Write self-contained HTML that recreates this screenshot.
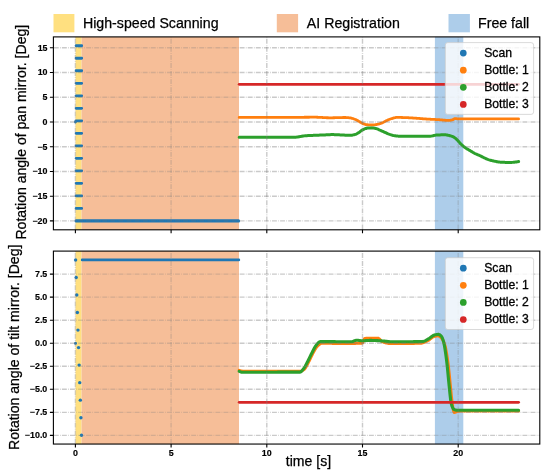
<!DOCTYPE html><html><head><meta charset="utf-8"><style>html,body{margin:0;padding:0;background:#fff;}svg{display:block;}.tl{font-family:"Liberation Sans", Arial, sans-serif;font-weight:bold;font-size:8.9px;fill:#000;stroke:#000;stroke-width:0.15px;}.lg{font-family:"Liberation Sans", Arial, sans-serif;font-size:12.2px;fill:#000;stroke:#000;stroke-width:0.3px;}.big{font-family:"Liberation Sans", Arial, sans-serif;font-size:14.05px;fill:#000;stroke:#000;stroke-width:0.25px;}.fl{font-family:"Liberation Sans", Arial, sans-serif;font-size:14.2px;fill:#000;stroke:#000;stroke-width:0.25px;}</style></head><body>
<svg width="550" height="474" viewBox="0 0 550 474">
<rect width="550" height="474" fill="#fff"/>
<rect x="53.5" y="14" width="20.9" height="18.3" fill="#ffe080"/>
<text x="82.9" y="27.5" class="fl">High-speed Scanning</text>
<rect x="276.8" y="14" width="21.3" height="18.3" fill="#f6be98"/>
<text x="306.8" y="27.5" class="fl">AI Registration</text>
<rect x="448.5" y="14" width="21.4" height="18.3" fill="#adcdea"/>
<text x="478" y="27.5" class="fl">Free fall</text>
<rect x="75.5" y="36.9" width="6.1" height="192.9" fill="#ffe080"/>
<rect x="81.6" y="36.9" width="157.4" height="192.9" fill="#f6be98"/>
<rect x="434.9" y="36.9" width="28.4" height="192.9" fill="#adcdea"/>
<path d="M76.1 208.39 H81.7 M76.1 195.88 H81.7 M76.1 183.37 H81.7 M76.1 170.86 H81.7 M76.1 158.35 H81.7 M76.1 145.83 H81.7 M76.1 133.32 H81.7 M76.1 120.81 H81.7 M76.1 108.3 H81.7 M76.1 95.79 H81.7 M76.1 83.28 H81.7 M76.1 70.77 H81.7 M76.1 58.26 H81.7 M76.1 45.75 H81.7" stroke="#1f77b4" stroke-width="2.8" stroke-linecap="round" fill="none"/><path d="M76.1 220.9 H238.6" stroke="#1f77b4" stroke-width="3.1" stroke-linecap="round" fill="none"/><circle cx="75.4" cy="122" r="1.4" fill="#1f77b4"/>
<path d="M239.2 117.4 L239.9 117.4 L240.6 117.4 L241.3 117.4 L242 117.4 L242.7 117.4 L243.4 117.4 L244.1 117.4 L244.8 117.4 L245.5 117.4 L246.2 117.4 L246.9 117.4 L247.6 117.4 L248.3 117.4 L249 117.4 L249.7 117.4 L250.4 117.4 L251.1 117.4 L251.8 117.4 L252.5 117.39 L253.21 117.39 L253.91 117.39 L254.61 117.39 L255.31 117.39 L256.01 117.39 L256.71 117.39 L257.41 117.39 L258.11 117.39 L258.81 117.39 L259.51 117.39 L260.21 117.39 L260.91 117.39 L261.61 117.38 L262.31 117.38 L263.01 117.38 L263.71 117.38 L264.41 117.38 L265.11 117.38 L265.81 117.38 L266.51 117.38 L267.21 117.38 L267.91 117.38 L268.61 117.37 L269.31 117.37 L270.01 117.37 L270.71 117.37 L271.41 117.37 L272.11 117.37 L272.81 117.37 L273.51 117.37 L274.21 117.36 L274.91 117.36 L275.61 117.36 L276.31 117.36 L277.01 117.36 L277.71 117.36 L278.41 117.36 L279.11 117.35 L279.81 117.35 L280.51 117.35 L281.22 117.35 L281.92 117.35 L282.62 117.35 L283.32 117.34 L284.02 117.34 L284.72 117.34 L285.42 117.34 L286.12 117.34 L286.82 117.34 L287.52 117.33 L288.22 117.33 L288.92 117.33 L289.62 117.33 L290.32 117.33 L291.02 117.33 L291.72 117.32 L292.42 117.32 L293.12 117.32 L293.82 117.32 L294.52 117.32 L295.22 117.31 L295.92 117.31 L296.62 117.31 L297.32 117.31 L298.02 117.31 L298.72 117.3 L299.42 117.3 L300.12 117.3 L300.82 117.3 L301.52 117.29 L302.22 117.29 L302.92 117.28 L303.62 117.28 L304.32 117.27 L305.02 117.27 L305.72 117.26 L306.42 117.25 L307.12 117.25 L307.82 117.24 L308.52 117.24 L309.23 117.23 L309.93 117.22 L310.63 117.22 L311.33 117.21 L312.03 117.21 L312.73 117.21 L313.43 117.2 L314.13 117.2 L314.83 117.2 L315.53 117.2 L316.23 117.21 L316.93 117.23 L317.63 117.25 L318.33 117.28 L319.03 117.31 L319.73 117.34 L320.43 117.38 L321.13 117.42 L321.83 117.46 L322.53 117.5 L323.23 117.54 L323.93 117.58 L324.63 117.62 L325.33 117.66 L326.03 117.7 L326.73 117.73 L327.43 117.75 L328.13 117.77 L328.83 117.79 L329.53 117.8 L330.23 117.8 L330.93 117.8 L331.63 117.79 L332.33 117.78 L333.03 117.77 L333.73 117.75 L334.43 117.74 L335.13 117.72 L335.83 117.7 L336.53 117.68 L337.24 117.66 L337.94 117.64 L338.64 117.62 L339.34 117.6 L340.04 117.58 L340.74 117.56 L341.44 117.54 L342.14 117.53 L342.84 117.52 L343.54 117.51 L344.24 117.5 L344.94 117.5 L345.64 117.51 L346.34 117.54 L347.04 117.58 L347.74 117.64 L348.44 117.72 L349.14 117.8 L349.84 117.88 L350.54 117.98 L351.24 118.12 L351.94 118.29 L352.64 118.49 L353.34 118.71 L354.04 118.95 L354.74 119.2 L355.44 119.48 L356.14 119.8 L356.84 120.17 L357.54 120.57 L358.24 120.99 L358.94 121.4 L359.64 121.8 L360.34 122.19 L361.04 122.6 L361.74 123 L362.44 123.36 L363.14 123.65 L363.84 123.91 L364.54 124.14 L365.25 124.35 L365.95 124.53 L366.65 124.66 L367.35 124.73 L368.05 124.8 L368.75 124.86 L369.45 124.91 L370.15 124.95 L370.85 124.98 L371.55 125 L372.25 125 L372.95 124.97 L373.65 124.91 L374.35 124.83 L375.05 124.73 L375.75 124.61 L376.45 124.5 L377.15 124.37 L377.85 124.23 L378.55 124.05 L379.25 123.85 L379.95 123.63 L380.65 123.39 L381.35 123.14 L382.05 122.88 L382.75 122.59 L383.45 122.25 L384.15 121.88 L384.85 121.49 L385.55 121.11 L386.25 120.75 L386.95 120.42 L387.65 120.12 L388.35 119.82 L389.05 119.53 L389.75 119.26 L390.45 119 L391.15 118.76 L391.85 118.54 L392.55 118.34 L393.26 118.13 L393.96 117.92 L394.66 117.74 L395.36 117.58 L396.06 117.46 L396.76 117.4 L397.46 117.4 L398.16 117.41 L398.86 117.42 L399.56 117.43 L400.26 117.45 L400.96 117.47 L401.66 117.49 L402.36 117.51 L403.06 117.53 L403.76 117.56 L404.46 117.58 L405.16 117.61 L405.86 117.63 L406.56 117.66 L407.26 117.69 L407.96 117.72 L408.66 117.76 L409.36 117.8 L410.06 117.84 L410.76 117.88 L411.46 117.92 L412.16 117.97 L412.86 118.01 L413.56 118.06 L414.26 118.11 L414.96 118.16 L415.66 118.21 L416.36 118.26 L417.06 118.31 L417.76 118.37 L418.46 118.42 L419.16 118.47 L419.86 118.52 L420.56 118.58 L421.27 118.63 L421.97 118.68 L422.67 118.73 L423.37 118.79 L424.07 118.84 L424.77 118.89 L425.47 118.93 L426.17 118.98 L426.87 119.03 L427.57 119.07 L428.27 119.12 L428.97 119.16 L429.67 119.2 L430.37 119.24 L431.07 119.28 L431.77 119.32 L432.47 119.36 L433.17 119.4 L433.87 119.44 L434.57 119.47 L435.27 119.51 L435.97 119.55 L436.67 119.59 L437.37 119.64 L438.07 119.68 L438.77 119.72 L439.47 119.77 L440.17 119.81 L440.87 119.87 L441.57 119.93 L442.27 119.99 L442.97 120.06 L443.67 120.13 L444.37 120.2 L445.07 120.26 L445.77 120.32 L446.47 120.36 L447.17 120.39 L447.87 120.4 L448.57 120.39 L449.28 120.35 L449.98 120.29 L450.68 120.2 L451.38 120.1 L452.08 119.99 L452.78 119.69 L453.48 119.25 L454.18 118.83 L454.88 118.61 L455.58 118.63 L456.28 118.72 L456.98 118.82 L457.68 118.89 L458.38 118.9 L459.08 118.9 L459.78 118.9 L460.48 118.9 L461.18 118.9 L461.88 118.9 L462.58 118.9 L463.28 118.9 L463.98 118.9 L464.68 118.9 L465.38 118.9 L466.08 118.9 L466.78 118.9 L467.48 118.9 L468.18 118.9 L468.88 118.9 L469.58 118.9 L470.28 118.9 L470.98 118.9 L471.68 118.9 L472.38 118.9 L473.08 118.9 L473.78 118.9 L474.48 118.9 L475.18 118.9 L475.88 118.9 L476.58 118.9 L477.29 118.9 L477.99 118.9 L478.69 118.9 L479.39 118.9 L480.09 118.9 L480.79 118.9 L481.49 118.9 L482.19 118.9 L482.89 118.9 L483.59 118.9 L484.29 118.9 L484.99 118.9 L485.69 118.9 L486.39 118.9 L487.09 118.9 L487.79 118.9 L488.49 118.9 L489.19 118.9 L489.89 118.9 L490.59 118.9 L491.29 118.9 L491.99 118.9 L492.69 118.9 L493.39 118.9 L494.09 118.9 L494.79 118.9 L495.49 118.9 L496.19 118.9 L496.89 118.9 L497.59 118.9 L498.29 118.9 L498.99 118.9 L499.69 118.9 L500.39 118.9 L501.09 118.9 L501.79 118.9 L502.49 118.9 L503.19 118.9 L503.89 118.9 L504.59 118.9 L505.3 118.9 L506 118.9 L506.7 118.9 L507.4 118.9 L508.1 118.9 L508.8 118.9 L509.5 118.9 L510.2 118.9 L510.9 118.9 L511.6 118.9 L512.3 118.9 L513 118.9 L513.7 118.9 L514.4 118.9 L515.1 118.9 L515.8 118.9 L516.5 118.9 L517.2 118.9 L517.9 118.9 L518.6 118.9" fill="none" stroke="#ff7f0e" stroke-width="2.8" stroke-linecap="round" stroke-linejoin="round"/>
<path d="M239.2 137.3 L239.9 137.3 L240.6 137.3 L241.3 137.3 L242 137.3 L242.7 137.3 L243.4 137.3 L244.1 137.3 L244.8 137.3 L245.5 137.3 L246.2 137.3 L246.9 137.3 L247.6 137.3 L248.3 137.3 L249 137.3 L249.7 137.3 L250.4 137.3 L251.1 137.3 L251.8 137.3 L252.5 137.3 L253.21 137.3 L253.91 137.3 L254.61 137.3 L255.31 137.3 L256.01 137.3 L256.71 137.29 L257.41 137.29 L258.11 137.29 L258.81 137.29 L259.51 137.29 L260.21 137.29 L260.91 137.29 L261.61 137.29 L262.31 137.29 L263.01 137.29 L263.71 137.29 L264.41 137.29 L265.11 137.29 L265.81 137.29 L266.51 137.28 L267.21 137.28 L267.91 137.28 L268.61 137.28 L269.31 137.28 L270.01 137.28 L270.71 137.28 L271.41 137.28 L272.11 137.28 L272.81 137.27 L273.51 137.27 L274.21 137.27 L274.91 137.27 L275.61 137.27 L276.31 137.27 L277.01 137.26 L277.71 137.26 L278.41 137.26 L279.11 137.26 L279.81 137.26 L280.51 137.26 L281.22 137.25 L281.92 137.25 L282.62 137.25 L283.32 137.25 L284.02 137.24 L284.72 137.24 L285.42 137.24 L286.12 137.24 L286.82 137.23 L287.52 137.23 L288.22 137.23 L288.92 137.23 L289.62 137.22 L290.32 137.22 L291.02 137.22 L291.72 137.22 L292.42 137.21 L293.12 137.21 L293.82 137.21 L294.52 137.2 L295.22 137.2 L295.92 137.16 L296.62 137.1 L297.32 137.01 L298.02 136.9 L298.72 136.79 L299.42 136.68 L300.12 136.58 L300.82 136.47 L301.52 136.35 L302.22 136.22 L302.92 136.09 L303.62 135.97 L304.32 135.87 L305.02 135.8 L305.72 135.74 L306.42 135.7 L307.12 135.65 L307.82 135.61 L308.52 135.57 L309.23 135.54 L309.93 135.51 L310.63 135.48 L311.33 135.45 L312.03 135.42 L312.73 135.39 L313.43 135.37 L314.13 135.34 L314.83 135.31 L315.53 135.28 L316.23 135.25 L316.93 135.22 L317.63 135.19 L318.33 135.16 L319.03 135.13 L319.73 135.11 L320.43 135.08 L321.13 135.05 L321.83 135.03 L322.53 135 L323.23 134.97 L323.93 134.94 L324.63 134.92 L325.33 134.89 L326.03 134.85 L326.73 134.81 L327.43 134.77 L328.13 134.73 L328.83 134.7 L329.53 134.66 L330.23 134.63 L330.93 134.61 L331.63 134.6 L332.33 134.6 L333.03 134.61 L333.73 134.62 L334.43 134.65 L335.13 134.67 L335.83 134.7 L336.53 134.74 L337.24 134.77 L337.94 134.81 L338.64 134.84 L339.34 134.87 L340.04 134.9 L340.74 134.93 L341.44 134.96 L342.14 135 L342.84 135.03 L343.54 135.07 L344.24 135.11 L344.94 135.15 L345.64 135.18 L346.34 135.21 L347.04 135.24 L347.74 135.26 L348.44 135.28 L349.14 135.29 L349.84 135.3 L350.54 135.29 L351.24 135.23 L351.94 135.15 L352.64 135.03 L353.34 134.89 L354.04 134.73 L354.74 134.56 L355.44 134.37 L356.14 134.08 L356.84 133.72 L357.54 133.31 L358.24 132.88 L358.94 132.44 L359.64 131.96 L360.34 131.41 L361.04 130.85 L361.74 130.36 L362.44 129.95 L363.14 129.59 L363.84 129.26 L364.54 128.96 L365.25 128.71 L365.95 128.46 L366.65 128.23 L367.35 128.06 L368.05 128 L368.75 128 L369.45 128 L370.15 128 L370.85 128 L371.55 128 L372.25 128 L372.95 128.04 L373.65 128.11 L374.35 128.2 L375.05 128.32 L375.75 128.45 L376.45 128.61 L377.15 128.85 L377.85 129.16 L378.55 129.5 L379.25 129.85 L379.95 130.18 L380.65 130.48 L381.35 130.79 L382.05 131.1 L382.75 131.41 L383.45 131.72 L384.15 132.03 L384.85 132.34 L385.55 132.64 L386.25 132.96 L386.95 133.27 L387.65 133.59 L388.35 133.89 L389.05 134.17 L389.75 134.42 L390.45 134.65 L391.15 134.87 L391.85 135.09 L392.55 135.29 L393.26 135.47 L393.96 135.63 L394.66 135.75 L395.36 135.84 L396.06 135.93 L396.76 136 L397.46 136.07 L398.16 136.13 L398.86 136.17 L399.56 136.2 L400.26 136.2 L400.96 136.2 L401.66 136.2 L402.36 136.2 L403.06 136.2 L403.76 136.2 L404.46 136.2 L405.16 136.2 L405.86 136.2 L406.56 136.2 L407.26 136.2 L407.96 136.2 L408.66 136.2 L409.36 136.2 L410.06 136.2 L410.76 136.2 L411.46 136.2 L412.16 136.2 L412.86 136.2 L413.56 136.2 L414.26 136.2 L414.96 136.2 L415.66 136.2 L416.36 136.2 L417.06 136.2 L417.76 136.2 L418.46 136.2 L419.16 136.2 L419.86 136.2 L420.56 136.2 L421.27 136.2 L421.97 136.2 L422.67 136.2 L423.37 136.2 L424.07 136.2 L424.77 136.2 L425.47 136.2 L426.17 136.2 L426.87 136.2 L427.57 136.2 L428.27 136.2 L428.97 136.2 L429.67 136.2 L430.37 136.19 L431.07 136.13 L431.77 136.02 L432.47 135.88 L433.17 135.72 L433.87 135.55 L434.57 135.38 L435.27 135.23 L435.97 135.1 L436.67 135.02 L437.37 134.98 L438.07 134.95 L438.77 134.93 L439.47 134.9 L440.17 134.88 L440.87 134.86 L441.57 134.84 L442.27 134.83 L442.97 134.81 L443.67 134.81 L444.37 134.8 L445.07 134.8 L445.77 134.83 L446.47 134.92 L447.17 135.03 L447.87 135.18 L448.57 135.35 L449.28 135.52 L449.98 135.69 L450.68 135.87 L451.38 136.08 L452.08 136.32 L452.78 136.6 L453.48 136.94 L454.18 137.37 L454.88 137.88 L455.58 138.44 L456.28 139.05 L456.98 139.68 L457.68 140.39 L458.38 141.22 L459.08 142.07 L459.78 142.87 L460.48 143.58 L461.18 144.25 L461.88 144.91 L462.58 145.54 L463.28 146.15 L463.98 146.72 L464.68 147.26 L465.38 147.77 L466.08 148.25 L466.78 148.69 L467.48 149.12 L468.18 149.53 L468.88 149.94 L469.58 150.35 L470.28 150.77 L470.98 151.19 L471.68 151.62 L472.38 152.04 L473.08 152.46 L473.78 152.85 L474.48 153.23 L475.18 153.59 L475.88 153.92 L476.58 154.23 L477.29 154.53 L477.99 154.82 L478.69 155.12 L479.39 155.42 L480.09 155.74 L480.79 156.08 L481.49 156.44 L482.19 156.81 L482.89 157.18 L483.59 157.53 L484.29 157.88 L484.99 158.19 L485.69 158.5 L486.39 158.79 L487.09 159.07 L487.79 159.35 L488.49 159.61 L489.19 159.85 L489.89 160.07 L490.59 160.27 L491.29 160.46 L491.99 160.64 L492.69 160.81 L493.39 160.97 L494.09 161.12 L494.79 161.26 L495.49 161.4 L496.19 161.53 L496.89 161.67 L497.59 161.79 L498.29 161.91 L498.99 162 L499.69 162.08 L500.39 162.13 L501.09 162.17 L501.79 162.22 L502.49 162.26 L503.19 162.3 L503.89 162.33 L504.59 162.37 L505.3 162.4 L506 162.42 L506.7 162.45 L507.4 162.47 L508.1 162.48 L508.8 162.49 L509.5 162.5 L510.2 162.5 L510.9 162.48 L511.6 162.44 L512.3 162.38 L513 162.32 L513.7 162.24 L514.4 162.16 L515.1 162.09 L515.8 162.01 L516.5 161.92 L517.2 161.82 L517.9 161.71 L518.6 161.6" fill="none" stroke="#2ca02c" stroke-width="3.0" stroke-linecap="round" stroke-linejoin="round"/>
<path d="M239.2 84.3 L239.9 84.3 L240.6 84.3 L241.3 84.3 L242 84.3 L242.7 84.3 L243.4 84.3 L244.1 84.3 L244.8 84.3 L245.5 84.3 L246.2 84.3 L246.9 84.3 L247.6 84.3 L248.3 84.3 L249 84.3 L249.7 84.3 L250.4 84.3 L251.1 84.3 L251.8 84.3 L252.5 84.3 L253.21 84.3 L253.91 84.3 L254.61 84.3 L255.31 84.3 L256.01 84.3 L256.71 84.3 L257.41 84.3 L258.11 84.3 L258.81 84.3 L259.51 84.3 L260.21 84.3 L260.91 84.3 L261.61 84.3 L262.31 84.3 L263.01 84.3 L263.71 84.3 L264.41 84.3 L265.11 84.3 L265.81 84.3 L266.51 84.3 L267.21 84.3 L267.91 84.3 L268.61 84.3 L269.31 84.3 L270.01 84.3 L270.71 84.3 L271.41 84.3 L272.11 84.3 L272.81 84.3 L273.51 84.3 L274.21 84.3 L274.91 84.3 L275.61 84.3 L276.31 84.3 L277.01 84.3 L277.71 84.3 L278.41 84.3 L279.11 84.3 L279.81 84.3 L280.51 84.3 L281.22 84.3 L281.92 84.3 L282.62 84.3 L283.32 84.3 L284.02 84.3 L284.72 84.3 L285.42 84.3 L286.12 84.3 L286.82 84.3 L287.52 84.3 L288.22 84.3 L288.92 84.3 L289.62 84.3 L290.32 84.3 L291.02 84.3 L291.72 84.3 L292.42 84.3 L293.12 84.3 L293.82 84.3 L294.52 84.3 L295.22 84.3 L295.92 84.3 L296.62 84.3 L297.32 84.3 L298.02 84.3 L298.72 84.3 L299.42 84.3 L300.12 84.3 L300.82 84.3 L301.52 84.3 L302.22 84.3 L302.92 84.3 L303.62 84.3 L304.32 84.3 L305.02 84.3 L305.72 84.3 L306.42 84.3 L307.12 84.3 L307.82 84.3 L308.52 84.3 L309.23 84.3 L309.93 84.3 L310.63 84.3 L311.33 84.3 L312.03 84.3 L312.73 84.3 L313.43 84.3 L314.13 84.3 L314.83 84.3 L315.53 84.3 L316.23 84.3 L316.93 84.3 L317.63 84.3 L318.33 84.3 L319.03 84.3 L319.73 84.3 L320.43 84.3 L321.13 84.3 L321.83 84.3 L322.53 84.3 L323.23 84.3 L323.93 84.3 L324.63 84.3 L325.33 84.3 L326.03 84.3 L326.73 84.3 L327.43 84.3 L328.13 84.3 L328.83 84.3 L329.53 84.3 L330.23 84.3 L330.93 84.3 L331.63 84.3 L332.33 84.3 L333.03 84.3 L333.73 84.3 L334.43 84.3 L335.13 84.3 L335.83 84.3 L336.53 84.3 L337.24 84.3 L337.94 84.3 L338.64 84.3 L339.34 84.3 L340.04 84.3 L340.74 84.3 L341.44 84.3 L342.14 84.3 L342.84 84.3 L343.54 84.3 L344.24 84.3 L344.94 84.3 L345.64 84.3 L346.34 84.3 L347.04 84.3 L347.74 84.3 L348.44 84.3 L349.14 84.3 L349.84 84.3 L350.54 84.3 L351.24 84.3 L351.94 84.3 L352.64 84.3 L353.34 84.3 L354.04 84.3 L354.74 84.3 L355.44 84.3 L356.14 84.3 L356.84 84.3 L357.54 84.3 L358.24 84.3 L358.94 84.3 L359.64 84.3 L360.34 84.3 L361.04 84.3 L361.74 84.3 L362.44 84.3 L363.14 84.3 L363.84 84.3 L364.54 84.3 L365.25 84.3 L365.95 84.3 L366.65 84.3 L367.35 84.3 L368.05 84.3 L368.75 84.3 L369.45 84.3 L370.15 84.3 L370.85 84.3 L371.55 84.3 L372.25 84.3 L372.95 84.3 L373.65 84.3 L374.35 84.3 L375.05 84.3 L375.75 84.3 L376.45 84.3 L377.15 84.3 L377.85 84.3 L378.55 84.3 L379.25 84.3 L379.95 84.3 L380.65 84.3 L381.35 84.3 L382.05 84.3 L382.75 84.3 L383.45 84.3 L384.15 84.3 L384.85 84.3 L385.55 84.3 L386.25 84.3 L386.95 84.3 L387.65 84.3 L388.35 84.3 L389.05 84.3 L389.75 84.3 L390.45 84.3 L391.15 84.3 L391.85 84.3 L392.55 84.3 L393.26 84.3 L393.96 84.3 L394.66 84.3 L395.36 84.3 L396.06 84.3 L396.76 84.3 L397.46 84.3 L398.16 84.3 L398.86 84.3 L399.56 84.3 L400.26 84.3 L400.96 84.3 L401.66 84.3 L402.36 84.3 L403.06 84.3 L403.76 84.3 L404.46 84.3 L405.16 84.3 L405.86 84.3 L406.56 84.3 L407.26 84.3 L407.96 84.3 L408.66 84.3 L409.36 84.3 L410.06 84.3 L410.76 84.3 L411.46 84.3 L412.16 84.3 L412.86 84.3 L413.56 84.3 L414.26 84.3 L414.96 84.3 L415.66 84.3 L416.36 84.3 L417.06 84.3 L417.76 84.3 L418.46 84.3 L419.16 84.3 L419.86 84.3 L420.56 84.3 L421.27 84.3 L421.97 84.3 L422.67 84.3 L423.37 84.3 L424.07 84.3 L424.77 84.3 L425.47 84.3 L426.17 84.3 L426.87 84.3 L427.57 84.3 L428.27 84.3 L428.97 84.3 L429.67 84.3 L430.37 84.3 L431.07 84.3 L431.77 84.3 L432.47 84.3 L433.17 84.3 L433.87 84.3 L434.57 84.3 L435.27 84.3 L435.97 84.3 L436.67 84.3 L437.37 84.3 L438.07 84.3 L438.77 84.3 L439.47 84.3 L440.17 84.3 L440.87 84.3 L441.57 84.3 L442.27 84.3 L442.97 84.3 L443.67 84.3 L444.37 84.3 L445.07 84.3 L445.77 84.3 L446.47 84.3 L447.17 84.3 L447.87 84.3 L448.57 84.3 L449.28 84.3 L449.98 84.3 L450.68 84.3 L451.38 84.3 L452.08 84.3 L452.78 84.3 L453.48 84.3 L454.18 84.3 L454.88 84.3 L455.58 84.3 L456.28 84.3 L456.98 84.3 L457.68 84.3 L458.38 84.3 L459.08 84.3 L459.78 84.3 L460.48 84.3 L461.18 84.3 L461.88 84.3 L462.58 84.3 L463.28 84.3 L463.98 84.3 L464.68 84.3 L465.38 84.3 L466.08 84.3 L466.78 84.3 L467.48 84.3 L468.18 84.3 L468.88 84.3 L469.58 84.3 L470.28 84.3 L470.98 84.3 L471.68 84.3 L472.38 84.3 L473.08 84.3 L473.78 84.3 L474.48 84.3 L475.18 84.3 L475.88 84.3 L476.58 84.3 L477.29 84.3 L477.99 84.3 L478.69 84.3 L479.39 84.3 L480.09 84.3 L480.79 84.3 L481.49 84.3 L482.19 84.3 L482.89 84.3 L483.59 84.3 L484.29 84.3 L484.99 84.3 L485.69 84.3 L486.39 84.3 L487.09 84.3 L487.79 84.3 L488.49 84.3 L489.19 84.3 L489.89 84.3 L490.59 84.3 L491.29 84.3 L491.99 84.3 L492.69 84.3 L493.39 84.3 L494.09 84.3 L494.79 84.3 L495.49 84.3 L496.19 84.3 L496.89 84.3 L497.59 84.3 L498.29 84.3 L498.99 84.3 L499.69 84.3 L500.39 84.3 L501.09 84.3 L501.79 84.3 L502.49 84.3 L503.19 84.3 L503.89 84.3 L504.59 84.3 L505.3 84.3 L506 84.3 L506.7 84.3 L507.4 84.3 L508.1 84.3 L508.8 84.3 L509.5 84.3 L510.2 84.3 L510.9 84.3 L511.6 84.3 L512.3 84.3 L513 84.3 L513.7 84.3 L514.4 84.3 L515.1 84.3 L515.8 84.3 L516.5 84.3 L517.2 84.3 L517.9 84.3 L518.6 84.3" fill="none" stroke="#d62728" stroke-width="2.8" stroke-linecap="round" stroke-linejoin="round"/>
<clipPath id="c36a"><rect x="52.4" y="35.9" width="23.1" height="194.9"/><rect x="239" y="35.9" width="195.9" height="194.9"/><rect x="463.3" y="35.9" width="77.5" height="194.9"/></clipPath>
<clipPath id="c36b"><rect x="75.5" y="35.9" width="163.5" height="194.9"/><rect x="434.9" y="35.9" width="28.4" height="194.9"/></clipPath>
<g clip-path="url(#c36a)">
<path d="M75.4 229.8 V36.9 M171.1 229.8 V36.9 M266.8 229.8 V36.9 M362.5 229.8 V36.9 M458.2 229.8 V36.9" fill="none" stroke="#7a7a7a" stroke-opacity="0.4" stroke-width="1.4" stroke-dasharray="4.9 1.25 0.7 1.23" stroke-dashoffset="-0.3"/>
<path d="M53.4 47.82 H539.8 M53.4 72.55 H539.8 M53.4 97.28 H539.8 M53.4 122 H539.8 M53.4 146.72 H539.8 M53.4 171.45 H539.8 M53.4 196.18 H539.8 M53.4 220.9 H539.8" fill="none" stroke="#7a7a7a" stroke-opacity="0.4" stroke-width="1.4" stroke-dasharray="4.9 1.25 0.7 1.23" stroke-dashoffset="-0.44"/>
</g>
<g clip-path="url(#c36b)">
<path d="M75.4 229.8 V36.9 M171.1 229.8 V36.9 M266.8 229.8 V36.9 M362.5 229.8 V36.9 M458.2 229.8 V36.9" fill="none" stroke="#7a7a7a" stroke-opacity="0.27" stroke-width="1.4" stroke-dasharray="4.9 1.25 0.7 1.23" stroke-dashoffset="-0.3"/>
<path d="M53.4 47.82 H539.8 M53.4 72.55 H539.8 M53.4 97.28 H539.8 M53.4 122 H539.8 M53.4 146.72 H539.8 M53.4 171.45 H539.8 M53.4 196.18 H539.8 M53.4 220.9 H539.8" fill="none" stroke="#7a7a7a" stroke-opacity="0.27" stroke-width="1.4" stroke-dasharray="4.9 1.25 0.7 1.23" stroke-dashoffset="-0.44"/>
</g>
<rect x="53.4" y="36.9" width="486.4" height="192.9" fill="none" stroke="#000" stroke-width="1.1"/>
<path d="M49.9 47.82 H53.4 M49.9 72.55 H53.4 M49.9 97.28 H53.4 M49.9 122 H53.4 M49.9 146.72 H53.4 M49.9 171.45 H53.4 M49.9 196.18 H53.4 M49.9 220.9 H53.4 M75.4 229.8 V233.3 M171.1 229.8 V233.3 M266.8 229.8 V233.3 M362.5 229.8 V233.3 M458.2 229.8 V233.3" stroke="#000" stroke-width="1.1" fill="none"/>
<text x="47.5" y="50.62" text-anchor="end" class="tl">15</text>
<text x="47.5" y="75.35" text-anchor="end" class="tl">10</text>
<text x="47.5" y="100.08" text-anchor="end" class="tl">5</text>
<text x="47.5" y="124.8" text-anchor="end" class="tl">0</text>
<text x="47.5" y="149.53" text-anchor="end" class="tl">−5</text>
<text x="47.5" y="174.25" text-anchor="end" class="tl">−10</text>
<text x="47.5" y="198.98" text-anchor="end" class="tl">−15</text>
<text x="47.5" y="223.7" text-anchor="end" class="tl">−20</text>
<rect x="445.3" y="42.6" width="88.3" height="71.8" rx="2.5" fill="#fff" fill-opacity="0.8" stroke="#cccccc" stroke-opacity="0.8" stroke-width="0.9"/>
<circle cx="463.3" cy="53.1" r="3.35" fill="#1f77b4"/>
<text x="484.2" y="56.6" class="lg">Scan</text>
<circle cx="463.3" cy="70.2" r="3.35" fill="#ff7f0e"/>
<text x="484.2" y="73.7" class="lg">Bottle: 1</text>
<circle cx="463.3" cy="87.3" r="3.35" fill="#2ca02c"/>
<text x="484.2" y="90.8" class="lg">Bottle: 2</text>
<circle cx="463.3" cy="104.4" r="3.35" fill="#d62728"/>
<text x="484.2" y="107.9" class="lg">Bottle: 3</text>
<rect x="75.5" y="251.1" width="6.1" height="192.95" fill="#ffe080"/>
<rect x="81.6" y="251.1" width="157.4" height="192.95" fill="#f6be98"/>
<rect x="434.9" y="251.1" width="28.4" height="192.95" fill="#adcdea"/>
<circle cx="75.6" cy="260" r="1.7" fill="#1f77b4"/><circle cx="76.19" cy="277.52" r="1.7" fill="#1f77b4"/><circle cx="76.78" cy="295.04" r="1.7" fill="#1f77b4"/><circle cx="77.37" cy="312.56" r="1.7" fill="#1f77b4"/><circle cx="77.96" cy="330.08" r="1.7" fill="#1f77b4"/><circle cx="78.55" cy="347.6" r="1.7" fill="#1f77b4"/><circle cx="79.14" cy="365.12" r="1.7" fill="#1f77b4"/><circle cx="79.73" cy="382.64" r="1.7" fill="#1f77b4"/><circle cx="80.32" cy="400.16" r="1.7" fill="#1f77b4"/><circle cx="80.91" cy="417.68" r="1.7" fill="#1f77b4"/><circle cx="81.5" cy="435.2" r="1.7" fill="#1f77b4"/><circle cx="75.5" cy="343.23" r="1.5" fill="#1f77b4"/><path d="M82.2 259.9 H238.8" stroke="#1f77b4" stroke-width="2.8" stroke-linecap="round" fill="none"/>
<path d="M239.2 370.4 L239.9 370.58 L240.6 370.77 L241.3 370.95 L242 371.1 L242.7 371.19 L243.4 371.2 L244.1 371.21 L244.8 371.21 L245.5 371.21 L246.2 371.21 L246.9 371.22 L247.6 371.22 L248.3 371.22 L249 371.23 L249.7 371.23 L250.4 371.23 L251.1 371.23 L251.8 371.24 L252.5 371.24 L253.21 371.24 L253.91 371.24 L254.61 371.25 L255.31 371.25 L256.01 371.25 L256.71 371.25 L257.41 371.26 L258.11 371.26 L258.81 371.26 L259.51 371.26 L260.21 371.26 L260.91 371.26 L261.61 371.27 L262.31 371.27 L263.01 371.27 L263.71 371.27 L264.41 371.27 L265.11 371.27 L265.81 371.28 L266.51 371.28 L267.21 371.28 L267.91 371.28 L268.61 371.28 L269.31 371.28 L270.01 371.28 L270.71 371.28 L271.41 371.28 L272.11 371.29 L272.81 371.29 L273.51 371.29 L274.21 371.29 L274.91 371.29 L275.61 371.29 L276.31 371.29 L277.01 371.29 L277.71 371.29 L278.41 371.29 L279.11 371.29 L279.81 371.29 L280.51 371.29 L281.22 371.29 L281.92 371.3 L282.62 371.3 L283.32 371.3 L284.02 371.3 L284.72 371.3 L285.42 371.3 L286.12 371.3 L286.82 371.3 L287.52 371.3 L288.22 371.3 L288.92 371.3 L289.62 371.3 L290.32 371.3 L291.02 371.3 L291.72 371.3 L292.42 371.3 L293.12 371.3 L293.82 371.3 L294.52 371.3 L295.22 371.3 L295.92 371.3 L296.62 371.3 L297.32 371.3 L298.02 371.3 L298.72 371.3 L299.42 371.3 L300.12 371.3 L300.82 371.2 L301.52 370.97 L302.22 370.63 L302.92 370.22 L303.62 369.76 L304.32 369.24 L305.02 368.44 L305.72 367.38 L306.42 366.15 L307.12 364.82 L307.82 363.46 L308.52 362.16 L309.23 360.82 L309.93 359.38 L310.63 357.89 L311.33 356.41 L312.03 354.97 L312.73 353.63 L313.43 352.36 L314.13 351.06 L314.83 349.79 L315.53 348.59 L316.23 347.51 L316.93 346.59 L317.63 345.89 L318.33 345.26 L319.03 344.66 L319.73 344.11 L320.43 343.67 L321.13 343.35 L321.83 343.21 L322.53 343.2 L323.23 343.2 L323.93 343.21 L324.63 343.22 L325.33 343.23 L326.03 343.24 L326.73 343.25 L327.43 343.27 L328.13 343.28 L328.83 343.3 L329.53 343.31 L330.23 343.33 L330.93 343.35 L331.63 343.37 L332.33 343.38 L333.03 343.4 L333.73 343.42 L334.43 343.43 L335.13 343.45 L335.83 343.46 L336.53 343.47 L337.24 343.48 L337.94 343.49 L338.64 343.5 L339.34 343.5 L340.04 343.5 L340.74 343.5 L341.44 343.5 L342.14 343.5 L342.84 343.5 L343.54 343.5 L344.24 343.49 L344.94 343.49 L345.64 343.49 L346.34 343.49 L347.04 343.48 L347.74 343.48 L348.44 343.47 L349.14 343.47 L349.84 343.46 L350.54 343.45 L351.24 343.45 L351.94 343.44 L352.64 343.43 L353.34 343.42 L354.04 343.41 L354.74 343.39 L355.44 343.38 L356.14 343.37 L356.84 343.35 L357.54 343.33 L358.24 343.32 L358.94 343.3 L359.64 343.28 L360.34 343.26 L361.04 343.23 L361.74 343.21 L362.44 342.91 L363.14 341.63 L363.84 339.99 L364.54 338.71 L365.25 338.39 L365.95 338.37 L366.65 338.34 L367.35 338.32 L368.05 338.3 L368.75 338.29 L369.45 338.27 L370.15 338.26 L370.85 338.25 L371.55 338.24 L372.25 338.23 L372.95 338.22 L373.65 338.22 L374.35 338.21 L375.05 338.21 L375.75 338.2 L376.45 338.2 L377.15 338.2 L377.85 338.2 L378.55 338.34 L379.25 338.86 L379.95 339.59 L380.65 340.39 L381.35 341.08 L382.05 341.52 L382.75 341.8 L383.45 342.07 L384.15 342.33 L384.85 342.56 L385.55 342.78 L386.25 342.98 L386.95 343.14 L387.65 343.28 L388.35 343.39 L389.05 343.46 L389.75 343.5 L390.45 343.5 L391.15 343.5 L391.85 343.5 L392.55 343.5 L393.26 343.5 L393.96 343.5 L394.66 343.5 L395.36 343.5 L396.06 343.49 L396.76 343.49 L397.46 343.49 L398.16 343.49 L398.86 343.49 L399.56 343.49 L400.26 343.48 L400.96 343.48 L401.66 343.48 L402.36 343.47 L403.06 343.47 L403.76 343.47 L404.46 343.46 L405.16 343.46 L405.86 343.45 L406.56 343.45 L407.26 343.45 L407.96 343.44 L408.66 343.43 L409.36 343.43 L410.06 343.42 L410.76 343.42 L411.46 343.41 L412.16 343.4 L412.86 343.4 L413.56 343.39 L414.26 343.38 L414.96 343.37 L415.66 343.36 L416.36 343.35 L417.06 343.34 L417.76 343.33 L418.46 343.32 L419.16 343.31 L419.86 343.3 L420.56 343.27 L421.27 343.18 L421.97 343.03 L422.67 342.83 L423.37 342.59 L424.07 342.32 L424.77 342.02 L425.47 341.71 L426.17 341.38 L426.87 341.04 L427.57 340.7 L428.27 340.37 L428.97 339.94 L429.67 339.43 L430.37 338.87 L431.07 338.29 L431.77 337.74 L432.47 337.24 L433.17 336.83 L433.87 336.54 L434.57 336.35 L435.27 336.18 L435.97 336.02 L436.67 335.9 L437.37 335.82 L438.07 335.8 L438.77 335.94 L439.47 336.29 L440.17 336.79 L440.87 337.4 L441.57 338.07 L442.27 338.99 L442.97 340.26 L443.67 341.85 L444.37 343.73 L445.07 345.93 L445.77 348.96 L446.47 352.8 L447.17 357.24 L447.87 362.1 L448.57 367.75 L449.28 374.65 L449.98 381.81 L450.68 388.8 L451.38 396.08 L452.08 402.17 L452.78 406.76 L453.48 410.73 L454.18 412.5 L454.88 412.38 L455.58 412.08 L456.28 411.74 L456.98 411.5 L457.68 411.37 L458.38 411.25 L459.08 411.14 L459.78 411.05 L460.48 410.97 L461.18 410.92 L461.88 410.9 L462.58 410.9 L463.28 410.9 L463.98 410.9 L464.68 410.9 L465.38 410.9 L466.08 410.9 L466.78 410.9 L467.48 410.9 L468.18 410.9 L468.88 410.9 L469.58 410.9 L470.28 410.9 L470.98 410.9 L471.68 410.9 L472.38 410.9 L473.08 410.9 L473.78 410.9 L474.48 410.9 L475.18 410.9 L475.88 410.9 L476.58 410.9 L477.29 410.9 L477.99 410.9 L478.69 410.9 L479.39 410.9 L480.09 410.9 L480.79 410.9 L481.49 410.9 L482.19 410.9 L482.89 410.9 L483.59 410.9 L484.29 410.9 L484.99 410.9 L485.69 410.9 L486.39 410.9 L487.09 410.9 L487.79 410.9 L488.49 410.9 L489.19 410.9 L489.89 410.9 L490.59 410.9 L491.29 410.9 L491.99 410.9 L492.69 410.9 L493.39 410.9 L494.09 410.9 L494.79 410.9 L495.49 410.9 L496.19 410.9 L496.89 410.9 L497.59 410.9 L498.29 410.9 L498.99 410.9 L499.69 410.9 L500.39 410.9 L501.09 410.9 L501.79 410.9 L502.49 410.9 L503.19 410.9 L503.89 410.9 L504.59 410.9 L505.3 410.9 L506 410.9 L506.7 410.9 L507.4 410.9 L508.1 410.9 L508.8 410.9 L509.5 410.9 L510.2 410.9 L510.9 410.9 L511.6 410.9 L512.3 410.9 L513 410.9 L513.7 410.9 L514.4 410.9 L515.1 410.9 L515.8 410.9 L516.5 410.9 L517.2 410.9 L517.9 410.9 L518.6 410.9" fill="none" stroke="#ff7f0e" stroke-width="3.0" stroke-linecap="round" stroke-linejoin="round"/>
<path d="M239.2 371.4 L239.9 371.64 L240.6 371.9 L241.3 372.11 L242 372.2 L242.7 372.2 L243.4 372.2 L244.1 372.2 L244.8 372.2 L245.5 372.2 L246.2 372.2 L246.9 372.2 L247.6 372.2 L248.3 372.2 L249 372.2 L249.7 372.2 L250.4 372.2 L251.1 372.2 L251.8 372.2 L252.5 372.2 L253.21 372.2 L253.91 372.2 L254.61 372.2 L255.31 372.2 L256.01 372.2 L256.71 372.2 L257.41 372.2 L258.11 372.2 L258.81 372.2 L259.51 372.2 L260.21 372.2 L260.91 372.2 L261.61 372.19 L262.31 372.19 L263.01 372.19 L263.71 372.19 L264.41 372.19 L265.11 372.19 L265.81 372.19 L266.51 372.19 L267.21 372.19 L267.91 372.19 L268.61 372.19 L269.31 372.19 L270.01 372.19 L270.71 372.19 L271.41 372.19 L272.11 372.18 L272.81 372.18 L273.51 372.18 L274.21 372.18 L274.91 372.18 L275.61 372.18 L276.31 372.18 L277.01 372.18 L277.71 372.17 L278.41 372.17 L279.11 372.17 L279.81 372.17 L280.51 372.17 L281.22 372.17 L281.92 372.17 L282.62 372.16 L283.32 372.16 L284.02 372.16 L284.72 372.16 L285.42 372.16 L286.12 372.15 L286.82 372.15 L287.52 372.15 L288.22 372.15 L288.92 372.15 L289.62 372.14 L290.32 372.14 L291.02 372.14 L291.72 372.14 L292.42 372.13 L293.12 372.13 L293.82 372.13 L294.52 372.12 L295.22 372.12 L295.92 372.12 L296.62 372.12 L297.32 372.11 L298.02 372.11 L298.72 372.11 L299.42 372.1 L300.12 372.09 L300.82 371.8 L301.52 371.2 L302.22 370.41 L302.92 369.59 L303.62 368.71 L304.32 367.66 L305.02 366.46 L305.72 365.18 L306.42 363.85 L307.12 362.53 L307.82 361.2 L308.52 359.81 L309.23 358.36 L309.93 356.89 L310.63 355.44 L311.33 354.03 L312.03 352.67 L312.73 351.26 L313.43 349.84 L314.13 348.47 L314.83 347.22 L315.53 346.12 L316.23 345.23 L316.93 344.36 L317.63 343.52 L318.33 342.76 L319.03 342.15 L319.73 341.74 L320.43 341.6 L321.13 341.6 L321.83 341.6 L322.53 341.6 L323.23 341.6 L323.93 341.6 L324.63 341.6 L325.33 341.6 L326.03 341.6 L326.73 341.6 L327.43 341.6 L328.13 341.61 L328.83 341.61 L329.53 341.62 L330.23 341.62 L330.93 341.63 L331.63 341.63 L332.33 341.64 L333.03 341.65 L333.73 341.65 L334.43 341.66 L335.13 341.67 L335.83 341.68 L336.53 341.68 L337.24 341.69 L337.94 341.7 L338.64 341.71 L339.34 341.72 L340.04 341.72 L340.74 341.73 L341.44 341.74 L342.14 341.75 L342.84 341.75 L343.54 341.76 L344.24 341.77 L344.94 341.77 L345.64 341.78 L346.34 341.78 L347.04 341.79 L347.74 341.79 L348.44 341.79 L349.14 341.8 L349.84 341.8 L350.54 341.8 L351.24 341.79 L351.94 341.68 L352.64 341.48 L353.34 341.21 L354.04 340.92 L354.74 340.64 L355.44 340.4 L356.14 340.24 L356.84 340.2 L357.54 340.24 L358.24 340.32 L358.94 340.43 L359.64 340.55 L360.34 340.66 L361.04 340.75 L361.74 340.8 L362.44 340.8 L363.14 340.78 L363.84 340.75 L364.54 340.7 L365.25 340.66 L365.95 340.6 L366.65 340.55 L367.35 340.5 L368.05 340.46 L368.75 340.43 L369.45 340.41 L370.15 340.4 L370.85 340.4 L371.55 340.41 L372.25 340.43 L372.95 340.44 L373.65 340.46 L374.35 340.49 L375.05 340.52 L375.75 340.55 L376.45 340.59 L377.15 340.62 L377.85 340.66 L378.55 340.71 L379.25 340.75 L379.95 340.79 L380.65 340.84 L381.35 340.89 L382.05 340.93 L382.75 340.98 L383.45 341.03 L384.15 341.08 L384.85 341.13 L385.55 341.19 L386.25 341.27 L386.95 341.36 L387.65 341.45 L388.35 341.54 L389.05 341.62 L389.75 341.69 L390.45 341.75 L391.15 341.79 L391.85 341.8 L392.55 341.8 L393.26 341.8 L393.96 341.8 L394.66 341.8 L395.36 341.8 L396.06 341.8 L396.76 341.8 L397.46 341.79 L398.16 341.79 L398.86 341.79 L399.56 341.79 L400.26 341.78 L400.96 341.78 L401.66 341.78 L402.36 341.78 L403.06 341.77 L403.76 341.77 L404.46 341.76 L405.16 341.76 L405.86 341.75 L406.56 341.75 L407.26 341.74 L407.96 341.73 L408.66 341.73 L409.36 341.72 L410.06 341.71 L410.76 341.71 L411.46 341.7 L412.16 341.69 L412.86 341.68 L413.56 341.67 L414.26 341.66 L414.96 341.65 L415.66 341.64 L416.36 341.62 L417.06 341.61 L417.76 341.6 L418.46 341.59 L419.16 341.57 L419.86 341.56 L420.56 341.54 L421.27 341.53 L421.97 341.51 L422.67 341.49 L423.37 341.37 L424.07 341.17 L424.77 340.89 L425.47 340.55 L426.17 340.17 L426.87 339.76 L427.57 339.33 L428.27 338.92 L428.97 338.52 L429.67 338.09 L430.37 337.58 L431.07 337.03 L431.77 336.48 L432.47 335.97 L433.17 335.54 L433.87 335.24 L434.57 335.04 L435.27 334.86 L435.97 334.7 L436.67 334.57 L437.37 334.47 L438.07 334.41 L438.77 334.42 L439.47 334.66 L440.17 335.1 L440.87 335.69 L441.57 336.47 L442.27 337.87 L442.97 339.8 L443.67 342.12 L444.37 345.34 L445.07 349.5 L445.77 354.35 L446.47 359.65 L447.17 365.44 L447.87 372.58 L448.57 380.06 L449.28 387.03 L449.98 394.2 L450.68 400.29 L451.38 404.08 L452.08 406.44 L452.78 407.97 L453.48 409.09 L454.18 409.56 L454.88 409.78 L455.58 409.96 L456.28 410.11 L456.98 410.21 L457.68 410.27 L458.38 410.3 L459.08 410.3 L459.78 410.3 L460.48 410.3 L461.18 410.3 L461.88 410.3 L462.58 410.3 L463.28 410.3 L463.98 410.3 L464.68 410.3 L465.38 410.3 L466.08 410.3 L466.78 410.3 L467.48 410.3 L468.18 410.3 L468.88 410.3 L469.58 410.3 L470.28 410.3 L470.98 410.3 L471.68 410.3 L472.38 410.3 L473.08 410.3 L473.78 410.3 L474.48 410.3 L475.18 410.3 L475.88 410.3 L476.58 410.3 L477.29 410.3 L477.99 410.3 L478.69 410.3 L479.39 410.3 L480.09 410.3 L480.79 410.3 L481.49 410.3 L482.19 410.3 L482.89 410.3 L483.59 410.3 L484.29 410.3 L484.99 410.3 L485.69 410.3 L486.39 410.3 L487.09 410.3 L487.79 410.3 L488.49 410.3 L489.19 410.3 L489.89 410.3 L490.59 410.3 L491.29 410.3 L491.99 410.3 L492.69 410.3 L493.39 410.3 L494.09 410.3 L494.79 410.3 L495.49 410.3 L496.19 410.3 L496.89 410.3 L497.59 410.3 L498.29 410.3 L498.99 410.3 L499.69 410.3 L500.39 410.3 L501.09 410.3 L501.79 410.3 L502.49 410.3 L503.19 410.3 L503.89 410.3 L504.59 410.3 L505.3 410.3 L506 410.3 L506.7 410.3 L507.4 410.3 L508.1 410.3 L508.8 410.3 L509.5 410.3 L510.2 410.3 L510.9 410.3 L511.6 410.3 L512.3 410.3 L513 410.3 L513.7 410.3 L514.4 410.3 L515.1 410.3 L515.8 410.3 L516.5 410.3 L517.2 410.3 L517.9 410.3 L518.6 410.3" fill="none" stroke="#2ca02c" stroke-width="3.1" stroke-linecap="round" stroke-linejoin="round"/>
<path d="M239.2 402.3 L239.9 402.3 L240.6 402.3 L241.3 402.3 L242 402.3 L242.7 402.3 L243.4 402.3 L244.1 402.3 L244.8 402.3 L245.5 402.3 L246.2 402.3 L246.9 402.3 L247.6 402.3 L248.3 402.3 L249 402.3 L249.7 402.3 L250.4 402.3 L251.1 402.3 L251.8 402.3 L252.5 402.3 L253.21 402.3 L253.91 402.3 L254.61 402.3 L255.31 402.3 L256.01 402.3 L256.71 402.3 L257.41 402.3 L258.11 402.3 L258.81 402.3 L259.51 402.3 L260.21 402.3 L260.91 402.3 L261.61 402.3 L262.31 402.3 L263.01 402.3 L263.71 402.3 L264.41 402.3 L265.11 402.3 L265.81 402.3 L266.51 402.3 L267.21 402.3 L267.91 402.3 L268.61 402.3 L269.31 402.3 L270.01 402.3 L270.71 402.3 L271.41 402.3 L272.11 402.3 L272.81 402.3 L273.51 402.3 L274.21 402.3 L274.91 402.3 L275.61 402.3 L276.31 402.3 L277.01 402.3 L277.71 402.3 L278.41 402.3 L279.11 402.3 L279.81 402.3 L280.51 402.3 L281.22 402.3 L281.92 402.3 L282.62 402.3 L283.32 402.3 L284.02 402.3 L284.72 402.3 L285.42 402.3 L286.12 402.3 L286.82 402.3 L287.52 402.3 L288.22 402.3 L288.92 402.3 L289.62 402.3 L290.32 402.3 L291.02 402.3 L291.72 402.3 L292.42 402.3 L293.12 402.3 L293.82 402.3 L294.52 402.3 L295.22 402.3 L295.92 402.3 L296.62 402.3 L297.32 402.3 L298.02 402.3 L298.72 402.3 L299.42 402.3 L300.12 402.3 L300.82 402.3 L301.52 402.3 L302.22 402.3 L302.92 402.3 L303.62 402.3 L304.32 402.3 L305.02 402.3 L305.72 402.3 L306.42 402.3 L307.12 402.3 L307.82 402.3 L308.52 402.3 L309.23 402.3 L309.93 402.3 L310.63 402.3 L311.33 402.3 L312.03 402.3 L312.73 402.3 L313.43 402.3 L314.13 402.3 L314.83 402.3 L315.53 402.3 L316.23 402.3 L316.93 402.3 L317.63 402.3 L318.33 402.3 L319.03 402.3 L319.73 402.3 L320.43 402.3 L321.13 402.3 L321.83 402.3 L322.53 402.3 L323.23 402.3 L323.93 402.3 L324.63 402.3 L325.33 402.3 L326.03 402.3 L326.73 402.3 L327.43 402.3 L328.13 402.3 L328.83 402.3 L329.53 402.3 L330.23 402.3 L330.93 402.3 L331.63 402.3 L332.33 402.3 L333.03 402.3 L333.73 402.3 L334.43 402.3 L335.13 402.3 L335.83 402.3 L336.53 402.3 L337.24 402.3 L337.94 402.3 L338.64 402.3 L339.34 402.3 L340.04 402.3 L340.74 402.3 L341.44 402.3 L342.14 402.3 L342.84 402.3 L343.54 402.3 L344.24 402.3 L344.94 402.3 L345.64 402.3 L346.34 402.3 L347.04 402.3 L347.74 402.3 L348.44 402.3 L349.14 402.3 L349.84 402.3 L350.54 402.3 L351.24 402.3 L351.94 402.3 L352.64 402.3 L353.34 402.3 L354.04 402.3 L354.74 402.3 L355.44 402.3 L356.14 402.3 L356.84 402.3 L357.54 402.3 L358.24 402.3 L358.94 402.3 L359.64 402.3 L360.34 402.3 L361.04 402.3 L361.74 402.3 L362.44 402.3 L363.14 402.3 L363.84 402.3 L364.54 402.3 L365.25 402.3 L365.95 402.3 L366.65 402.3 L367.35 402.3 L368.05 402.3 L368.75 402.3 L369.45 402.3 L370.15 402.3 L370.85 402.3 L371.55 402.3 L372.25 402.3 L372.95 402.3 L373.65 402.3 L374.35 402.3 L375.05 402.3 L375.75 402.3 L376.45 402.3 L377.15 402.3 L377.85 402.3 L378.55 402.3 L379.25 402.3 L379.95 402.3 L380.65 402.3 L381.35 402.3 L382.05 402.3 L382.75 402.3 L383.45 402.3 L384.15 402.3 L384.85 402.3 L385.55 402.3 L386.25 402.3 L386.95 402.3 L387.65 402.3 L388.35 402.3 L389.05 402.3 L389.75 402.3 L390.45 402.3 L391.15 402.3 L391.85 402.3 L392.55 402.3 L393.26 402.3 L393.96 402.3 L394.66 402.3 L395.36 402.3 L396.06 402.3 L396.76 402.3 L397.46 402.3 L398.16 402.3 L398.86 402.3 L399.56 402.3 L400.26 402.3 L400.96 402.3 L401.66 402.3 L402.36 402.3 L403.06 402.3 L403.76 402.3 L404.46 402.3 L405.16 402.3 L405.86 402.3 L406.56 402.3 L407.26 402.3 L407.96 402.3 L408.66 402.3 L409.36 402.3 L410.06 402.3 L410.76 402.3 L411.46 402.3 L412.16 402.3 L412.86 402.3 L413.56 402.3 L414.26 402.3 L414.96 402.3 L415.66 402.3 L416.36 402.3 L417.06 402.3 L417.76 402.3 L418.46 402.3 L419.16 402.3 L419.86 402.3 L420.56 402.3 L421.27 402.3 L421.97 402.3 L422.67 402.3 L423.37 402.3 L424.07 402.3 L424.77 402.3 L425.47 402.3 L426.17 402.3 L426.87 402.3 L427.57 402.3 L428.27 402.3 L428.97 402.3 L429.67 402.3 L430.37 402.3 L431.07 402.3 L431.77 402.3 L432.47 402.3 L433.17 402.3 L433.87 402.3 L434.57 402.3 L435.27 402.3 L435.97 402.3 L436.67 402.3 L437.37 402.3 L438.07 402.3 L438.77 402.3 L439.47 402.3 L440.17 402.3 L440.87 402.3 L441.57 402.3 L442.27 402.3 L442.97 402.3 L443.67 402.3 L444.37 402.3 L445.07 402.3 L445.77 402.3 L446.47 402.3 L447.17 402.3 L447.87 402.3 L448.57 402.3 L449.28 402.3 L449.98 402.3 L450.68 402.3 L451.38 402.3 L452.08 402.3 L452.78 402.3 L453.48 402.3 L454.18 402.3 L454.88 402.3 L455.58 402.3 L456.28 402.3 L456.98 402.3 L457.68 402.3 L458.38 402.3 L459.08 402.3 L459.78 402.3 L460.48 402.3 L461.18 402.3 L461.88 402.3 L462.58 402.3 L463.28 402.3 L463.98 402.3 L464.68 402.3 L465.38 402.3 L466.08 402.3 L466.78 402.3 L467.48 402.3 L468.18 402.3 L468.88 402.3 L469.58 402.3 L470.28 402.3 L470.98 402.3 L471.68 402.3 L472.38 402.3 L473.08 402.3 L473.78 402.3 L474.48 402.3 L475.18 402.3 L475.88 402.3 L476.58 402.3 L477.29 402.3 L477.99 402.3 L478.69 402.3 L479.39 402.3 L480.09 402.3 L480.79 402.3 L481.49 402.3 L482.19 402.3 L482.89 402.3 L483.59 402.3 L484.29 402.3 L484.99 402.3 L485.69 402.3 L486.39 402.3 L487.09 402.3 L487.79 402.3 L488.49 402.3 L489.19 402.3 L489.89 402.3 L490.59 402.3 L491.29 402.3 L491.99 402.3 L492.69 402.3 L493.39 402.3 L494.09 402.3 L494.79 402.3 L495.49 402.3 L496.19 402.3 L496.89 402.3 L497.59 402.3 L498.29 402.3 L498.99 402.3 L499.69 402.3 L500.39 402.3 L501.09 402.3 L501.79 402.3 L502.49 402.3 L503.19 402.3 L503.89 402.3 L504.59 402.3 L505.3 402.3 L506 402.3 L506.7 402.3 L507.4 402.3 L508.1 402.3 L508.8 402.3 L509.5 402.3 L510.2 402.3 L510.9 402.3 L511.6 402.3 L512.3 402.3 L513 402.3 L513.7 402.3 L514.4 402.3 L515.1 402.3 L515.8 402.3 L516.5 402.3 L517.2 402.3 L517.9 402.3 L518.6 402.3" fill="none" stroke="#d62728" stroke-width="2.8" stroke-linecap="round" stroke-linejoin="round"/>
<clipPath id="c251a"><rect x="52.4" y="250.1" width="23.1" height="194.95"/><rect x="239" y="250.1" width="195.9" height="194.95"/><rect x="463.3" y="250.1" width="77.5" height="194.95"/></clipPath>
<clipPath id="c251b"><rect x="75.5" y="250.1" width="163.5" height="194.95"/><rect x="434.9" y="250.1" width="28.4" height="194.95"/></clipPath>
<g clip-path="url(#c251a)">
<path d="M75.4 444.05 V251.1 M171.1 444.05 V251.1 M266.8 444.05 V251.1 M362.5 444.05 V251.1 M458.2 444.05 V251.1" fill="none" stroke="#7a7a7a" stroke-opacity="0.4" stroke-width="1.4" stroke-dasharray="4.9 1.25 0.7 1.23" stroke-dashoffset="-0.3"/>
<path d="M53.4 274.1 H539.8 M53.4 297.15 H539.8 M53.4 320.19 H539.8 M53.4 343.23 H539.8 M53.4 366.27 H539.8 M53.4 389.31 H539.8 M53.4 412.36 H539.8 M53.4 435.4 H539.8" fill="none" stroke="#7a7a7a" stroke-opacity="0.4" stroke-width="1.4" stroke-dasharray="4.9 1.25 0.7 1.23" stroke-dashoffset="-0.44"/>
</g>
<g clip-path="url(#c251b)">
<path d="M75.4 444.05 V251.1 M171.1 444.05 V251.1 M266.8 444.05 V251.1 M362.5 444.05 V251.1 M458.2 444.05 V251.1" fill="none" stroke="#7a7a7a" stroke-opacity="0.27" stroke-width="1.4" stroke-dasharray="4.9 1.25 0.7 1.23" stroke-dashoffset="-0.3"/>
<path d="M53.4 274.1 H539.8 M53.4 297.15 H539.8 M53.4 320.19 H539.8 M53.4 343.23 H539.8 M53.4 366.27 H539.8 M53.4 389.31 H539.8 M53.4 412.36 H539.8 M53.4 435.4 H539.8" fill="none" stroke="#7a7a7a" stroke-opacity="0.27" stroke-width="1.4" stroke-dasharray="4.9 1.25 0.7 1.23" stroke-dashoffset="-0.44"/>
</g>
<rect x="53.4" y="251.1" width="486.4" height="192.95" fill="none" stroke="#000" stroke-width="1.1"/>
<path d="M49.9 274.1 H53.4 M49.9 297.15 H53.4 M49.9 320.19 H53.4 M49.9 343.23 H53.4 M49.9 366.27 H53.4 M49.9 389.31 H53.4 M49.9 412.36 H53.4 M49.9 435.4 H53.4 M75.4 444.05 V447.55 M171.1 444.05 V447.55 M266.8 444.05 V447.55 M362.5 444.05 V447.55 M458.2 444.05 V447.55" stroke="#000" stroke-width="1.1" fill="none"/>
<text x="47.3" y="276.9" text-anchor="end" class="tl">7.5</text>
<text x="47.3" y="299.95" text-anchor="end" class="tl">5.0</text>
<text x="47.3" y="322.99" text-anchor="end" class="tl">2.5</text>
<text x="47.3" y="346.03" text-anchor="end" class="tl">0.0</text>
<text x="47.3" y="369.07" text-anchor="end" class="tl">−2.5</text>
<text x="47.3" y="392.12" text-anchor="end" class="tl">−5.0</text>
<text x="47.3" y="415.16" text-anchor="end" class="tl">−7.5</text>
<text x="47.3" y="438.2" text-anchor="end" class="tl">−10.0</text>
<text x="75.4" y="456.1" text-anchor="middle" class="tl">0</text>
<text x="171.1" y="456.1" text-anchor="middle" class="tl">5</text>
<text x="266.8" y="456.1" text-anchor="middle" class="tl">10</text>
<text x="362.5" y="456.1" text-anchor="middle" class="tl">15</text>
<text x="458.2" y="456.1" text-anchor="middle" class="tl">20</text>
<rect x="445.3" y="257.7" width="88.3" height="71.8" rx="2.5" fill="#fff" fill-opacity="0.8" stroke="#cccccc" stroke-opacity="0.8" stroke-width="0.9"/>
<circle cx="463.3" cy="268.2" r="3.35" fill="#1f77b4"/>
<text x="484.2" y="271.7" class="lg">Scan</text>
<circle cx="463.3" cy="285.3" r="3.35" fill="#ff7f0e"/>
<text x="484.2" y="288.8" class="lg">Bottle: 1</text>
<circle cx="463.3" cy="302.4" r="3.35" fill="#2ca02c"/>
<text x="484.2" y="305.9" class="lg">Bottle: 2</text>
<circle cx="463.3" cy="319.5" r="3.35" fill="#d62728"/>
<text x="484.2" y="323" class="lg">Bottle: 3</text>
<text transform="translate(25.7 132.2) rotate(-90)" text-anchor="middle" class="big">Rotation angle of pan mirror. [Deg]</text>
<text transform="translate(18.7 347.3) rotate(-90)" text-anchor="middle" class="big">Rotation angle of tilt mirror. [Deg]</text>
<text x="285.8" y="466.1" class="big">time [s]</text>
</svg></body></html>
